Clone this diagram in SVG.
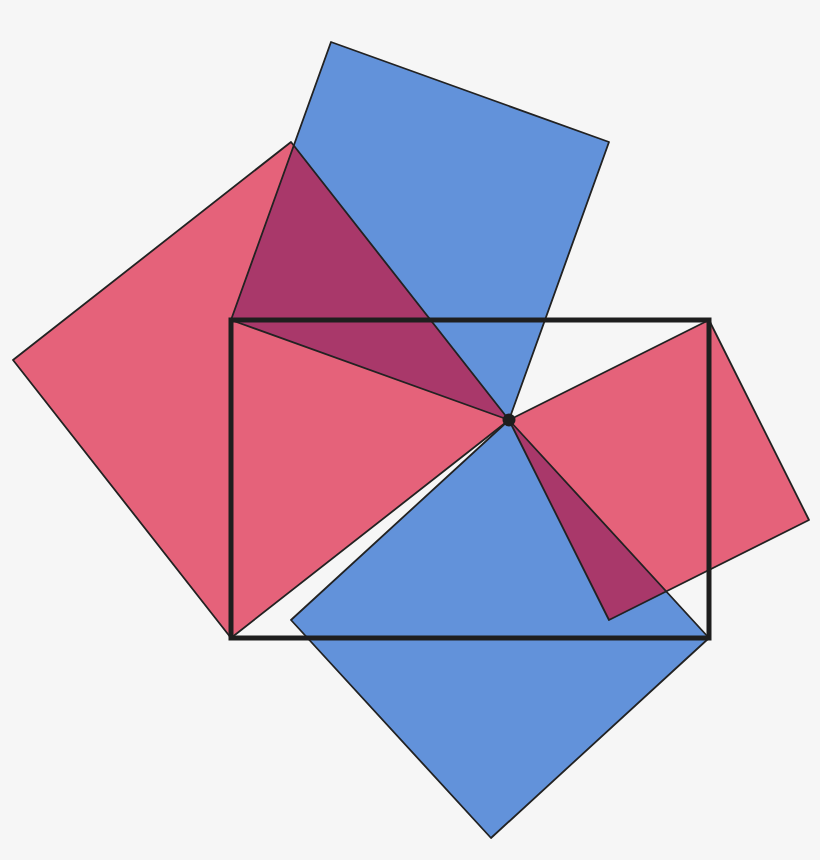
<svg xmlns="http://www.w3.org/2000/svg" width="820" height="860" viewBox="0 0 820 860">
<style>
.blue{fill:#6292da}
.red{fill:#e5627a}
.ov{fill:#a9386a}
.edge{fill:none;stroke:#222;stroke-width:1.8;stroke-linejoin:round}
.rect{fill:none;stroke:#1e1e1e;stroke-width:5}
</style>
<rect width="820" height="860" fill="#f6f6f6"/>
<g id="blueTop"><polygon class="blue" points="231,320 509,420 609,142 331,42"/></g>
<g id="blueBottom"><polygon class="blue" points="509,420 709,638 491,838 291,620"/></g>
<g id="redLeft"><polygon class="red" points="509,420 231,638 13,360 291,142"/></g>
<g id="redRight"><polygon class="red" points="509,420 709,320 809,520 609,620"/></g>
<g id="overlaps">
<polygon class="ov" points="231,320 509,420 293.8,145.5"/>
<polygon class="ov" points="509,420 609,620 666.2,591.4"/>
</g>
<g id="edges">
<polygon class="edge" points="231,320 509,420 609,142 331,42"/>
<polygon class="edge" points="509,420 709,638 491,838 291,620"/>
<polygon class="edge" points="509,420 231,638 13,360 291,142"/>
<polygon class="edge" points="509,420 709,320 809,520 609,620"/>
</g>
<g id="rectangle"><rect class="rect" x="231" y="320" width="478" height="318"/></g>
<g id="point"><circle cx="509" cy="420" r="6.5" fill="#1e1e1e"/></g>
</svg>
